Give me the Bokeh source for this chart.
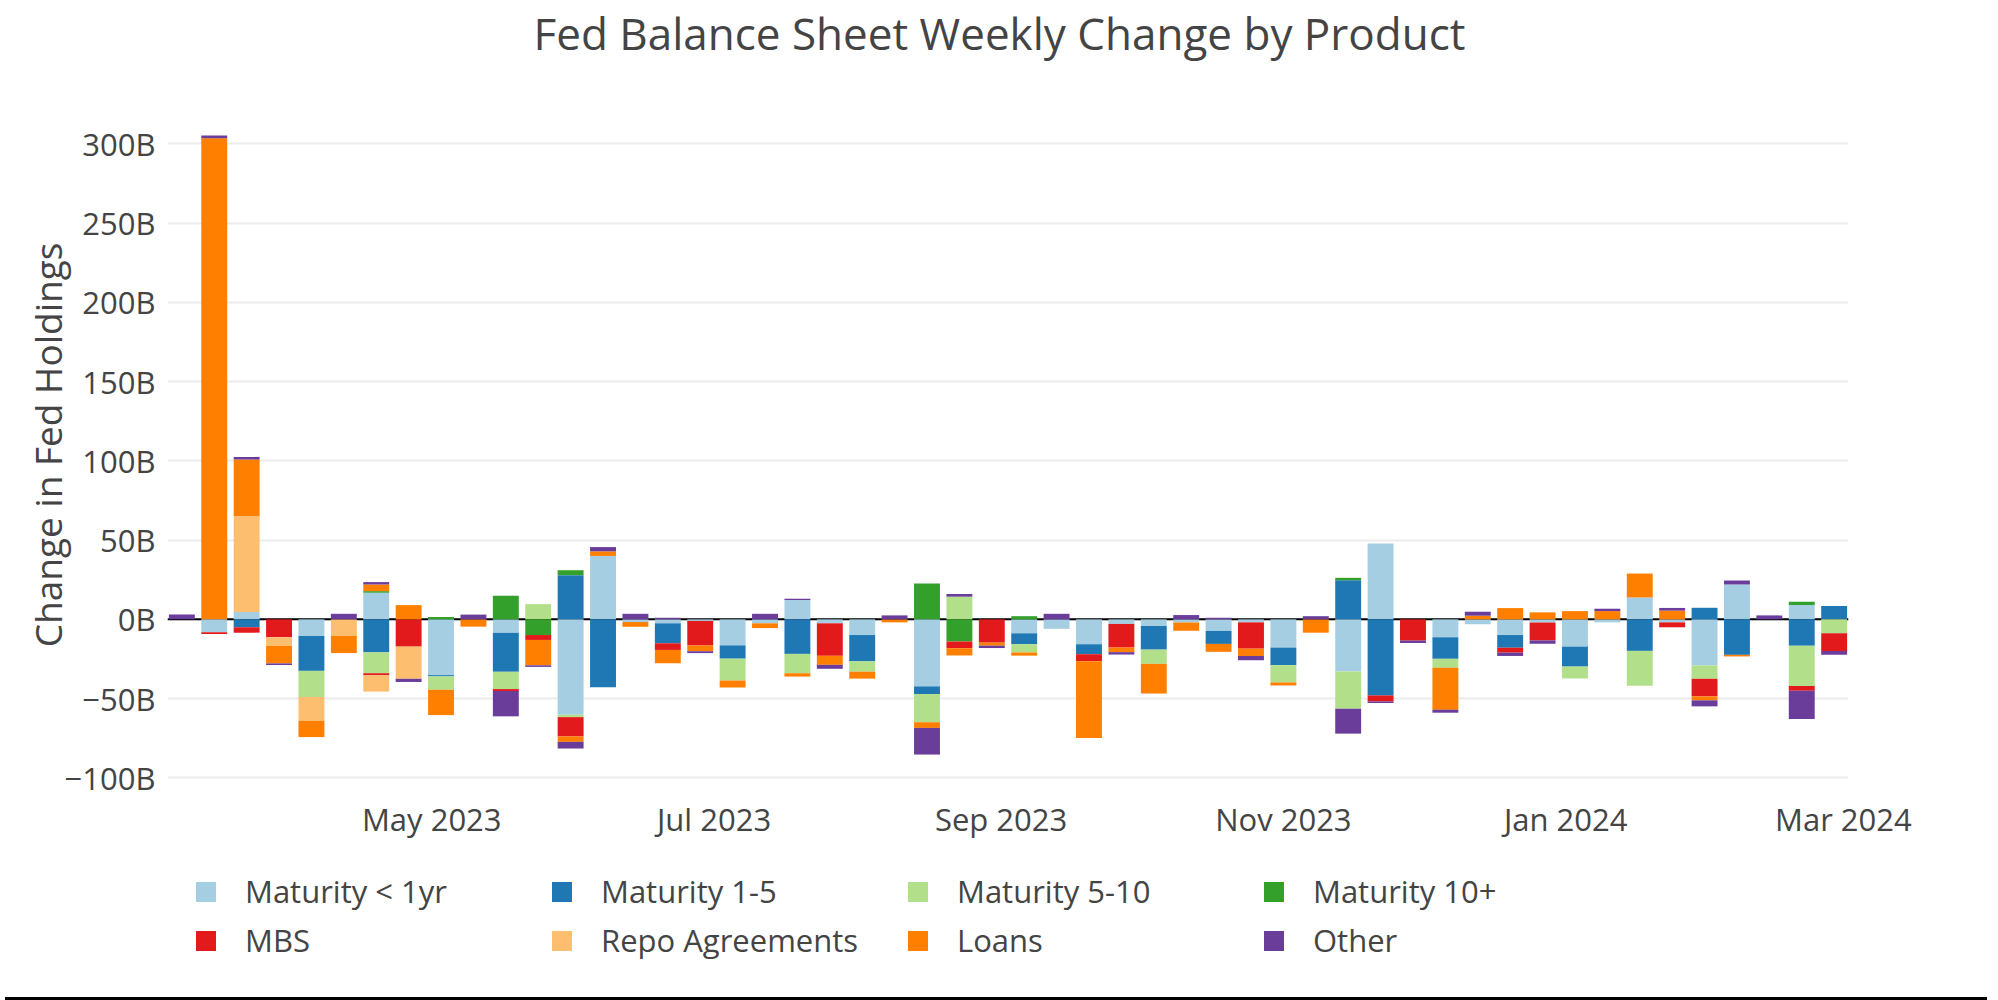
import numpy as np
import pandas as pd
from bokeh.plotting import figure
from bokeh.models import (Range1d, FixedTicker, DatetimeTickFormatter, Span, Label,
                          Legend, LegendItem, Div)
from bokeh.layouts import column
from bokeh.embed import file_html
from bokeh.resources import INLINE

# ---------------- data (billions USD, weekly change) ----------------
dates = pd.date_range("2023-03-08", periods=52, freq="7D")

series_names = ["Maturity < 1yr", "Maturity 1-5", "Maturity 5-10", "Maturity 10+",
                "MBS", "Repo Agreements", "Loans", "Other"]
series_colors = ["#a6cee3", "#1f78b4", "#b2df8a", "#33a02c",
                 "#e31a1c", "#fdbf6f", "#ff7f00", "#6a3d9a"]

mat_lt1 = [0, -8.2, 4.6, 0, -10.5, 0, 16.8, 0, -35.2, 0,
           -8.4, 0, -60.2, 40.0, -1.7, -2.5, -1.0, -16.4, -2.5, 12.2,
           -2.5, -9.9, 0, -42.3, 0, 0, -8.8, -6.0, -15.7, -2.9,
           -4.2, -2.0, -7.3, -1.9, -17.8, 0, -32.9, 47.8, 0, -11.3,
           -3.1, -9.9, -2.0, -17.2, -1.9, 13.8, -1.9, -29.1, 22.0, 0,
           9.0, 0]
mat_1_5 = [0, 0, -5.0, 0, -22.0, 0, -20.8, 0, -0.8, 0,
           -24.7, 0, 27.9, -42.8, 0, -12.6, 0, -8.4, 0, -21.8,
           0, -16.6, 0, -4.8, 0, 0, -6.9, 0, -6.3, 0,
           -14.9, 0, -8.2, 0, -11.1, 0, 24.7, -48.0, 0, -13.6,
           0, -8.0, 0, -12.6, 0, -19.9, 0, 7.3, -22.4, 0,
           -16.6, 8.4]
mat_5_10 = [0, 0, 0, 0, -16.5, 0, -13.2, 0, -8.4, 0,
            -10.9, 9.6, -1.5, 0, 0, 0, 0, -13.8, 0, -12.2,
            0, -6.5, 0, -17.8, 14.3, 0, -5.2, 0, 0, 0,
            -9.0, 0, 0, 0, -10.9, 0, -23.5, 0, 0, -5.7,
            0, 0, 0, -7.5, 0, -22.0, 0, -8.4, 0, 0,
            -25.4, -8.8]
mat_10p = [0, 0, 0, 0, 0, 0, 1.0, 0, 1.5, 0,
           14.9, -9.9, 3.1, 0, 0, 0, 0, 0, 0, 0,
           0, 0, 0, 22.6, -14.0, 0, 2.0, 0, 0, 0,
           0, 0, 0, 0, 0, 0, 1.5, 0, 0, 0,
           0, 0, 0, 0, 0, 0, 0, 0, 0, 0,
           2.1, 0]
mbs = [0, -1.0, -3.4, -11.3, 0, 0, -1.3, -17.2, 0, 0,
       -1.2, -3.1, -12.2, 0, 0, -4.2, -15.5, 0, 0, 0,
       -20.5, 0, 0, 0, -4.2, -14.7, 0, 0, -4.4, -14.9,
       0, 0, 0, -16.6, 0, 0, 0, -3.8, -13.4, 0,
       0, -3.1, -11.3, 0, 0, 0, -3.1, -11.1, 0, 0,
       -3.1, -11.1]
repo = [0, 0, 60.4, -5.5, -15.0, -10.3, -10.3, -20.3, 0, 0,
        0, 0, 0, 0, 0, 0, 0, 0, 0, 0,
        0, 0, 0, 0, 0, 0, 0, 0, 0, 0,
        0, 0, 0, 0, 0, 0, 0, 0, 0, 0,
        0, 0, 0, 0, 0, 0, 0, 0, 0, 0,
        0, 0]
loans = [0, 303.5, 35.8, -11.0, -10.3, -11.0, 4.2, 9.0, -16.0, -4.6,
         0, -16.0, -3.4, 2.9, -3.0, -8.4, -3.6, -4.4, -3.0, -2.1,
         -5.7, -4.4, -1.9, -3.6, -4.6, -1.9, -2.0, 0, -48.4, -2.9,
         -18.7, -5.2, -5.0, -4.6, -1.9, -8.4, 0, 0, 0, -26.4,
         2.3, 7.1, 4.4, 5.2, 5.2, 15.1, 5.5, -2.5, -1.0, 0,
         0, 0]
other = [3.0, 1.8, 1.7, -1.0, 0, 3.5, 1.5, -2.0, 0, 3.0,
         -16.0, -1.0, -4.2, 2.7, 3.5, 1.0, -1.2, 0, 3.5, 0.8,
         -2.5, 0, 2.5, -16.8, 1.7, -1.5, 0, 3.5, 0, -1.5,
         0, 2.7, 1.0, -2.7, 0, 2.0, -15.7, -1.0, -1.5, -1.9,
         2.5, -2.1, -2.1, 0, 1.5, 0, 1.7, -3.8, 2.5, 2.5,
         -17.8, -2.5]

series_values = [mat_lt1, mat_1_5, mat_5_10, mat_10p, mbs, repo, loans, other]

y_tick_values = [-100, -50, 0, 50, 100, 150, 200, 250, 300]
x_tick_dates = ["2023-05-01", "2023-07-01", "2023-09-01", "2023-11-01",
                "2024-01-01", "2024-03-01"]

title_text = "Fed Balance Sheet Weekly Change by Product"
y_label = "Change in Fed Holdings"

# ---------------- styling ----------------
FONT = "Open Sans"
TXT = "#444444"
W = 1982
TITLE_H = 70
H = 778
LEG_H = 144
FRAME_L, FRAME_R, FRAME_T, FRAME_B = 167, 1848, 34, 715   # main plot frame (px)

# ---------------- stacking (relative mode) ----------------
pos_base = np.zeros(len(dates))
neg_base = np.zeros(len(dates))
stacks = []
for vals in series_values:
    v = np.asarray(vals, dtype=float)
    bottom = np.where(v >= 0, pos_base, neg_base)
    top = bottom + v
    pos_base = np.where(v >= 0, top, pos_base)
    neg_base = np.where(v < 0, top, neg_base)
    stacks.append((bottom, top))

ymax = pos_base.max()
ymin = neg_base.min()
pad = 0.05 * (ymax - ymin)

day = pd.Timedelta(days=1)
x_start = dates[0] - 3.1 * day
x_end = dates[-1] + 3.1 * day
bar_width = 0.8 * 7 * 24 * 3600 * 1000


def strip(height, x_range, y_range, x_type="linear"):
    f = figure(width=W, height=height, x_range=x_range, y_range=y_range,
               x_axis_type=x_type, output_backend="svg", toolbar_location=None,
               x_axis_location=None, y_axis_location=None,
               min_border_left=FRAME_L, min_border_right=W - FRAME_R,
               min_border_top=0, min_border_bottom=0,
               outline_line_color=None,
               background_fill_color="white", border_fill_color="white")
    f.grid.visible = False
    return f


# ---------------- title strip (x data units == canvas px) ----------------
pt = strip(TITLE_H, Range1d(FRAME_L, FRAME_R), Range1d(0, TITLE_H))
pt.add_layout(Label(x=999, y=TITLE_H - 32, text=title_text, text_align="center",
                    text_baseline="middle", text_font=FONT, text_font_size="44px",
                    text_color=TXT))

# ---------------- main plot ----------------
p = figure(width=W, height=H, x_axis_type="datetime",
           x_range=Range1d(x_start, x_end),
           y_range=Range1d(ymin - pad, ymax + pad),
           output_backend="svg", toolbar_location=None,
           min_border_left=FRAME_L, min_border_right=W - FRAME_R,
           min_border_top=FRAME_T, min_border_bottom=H - FRAME_B,
           background_fill_color="white", border_fill_color="white",
           outline_line_color=None)

zero = Span(location=0, dimension="width", line_color="black",
            line_width=2, level="underlay")
p.add_layout(zero)

for name, color, (bottom, top) in zip(series_names, series_colors, stacks):
    p.vbar(x=dates, width=bar_width, bottom=bottom, top=top,
           fill_color=color, line_color=None)

p.xgrid.grid_line_color = None
p.ygrid.grid_line_color = "#ececec"
p.ygrid.grid_line_width = 2

p.yaxis.ticker = FixedTicker(ticks=y_tick_values)
p.yaxis.major_label_overrides = {
    t: (("\u2212" + str(abs(t))) if t < 0 else str(t)) + "B" for t in y_tick_values
}
p.yaxis.axis_label = y_label
p.yaxis.axis_label_text_font = FONT
p.yaxis.axis_label_text_font_size = "37px"
p.yaxis.axis_label_text_font_style = "normal"
p.yaxis.axis_label_text_color = TXT
p.yaxis.axis_label_standoff = -11

x_ticks = [pd.Timestamp(d).value / 1e6 for d in x_tick_dates]
p.xaxis.ticker = FixedTicker(ticks=x_ticks)
fmt = "%b %Y"
p.xaxis.formatter = DatetimeTickFormatter(
    microseconds=fmt, milliseconds=fmt, seconds=fmt, minsec=fmt, minutes=fmt,
    hourmin=fmt, hours=fmt, days=fmt, months=fmt, years=fmt)

for ax in (p.xaxis[0], p.yaxis[0]):
    ax.axis_line_color = None
    ax.major_tick_line_color = None
    ax.minor_tick_line_color = None
    ax.major_tick_out = 0
    ax.major_tick_in = 0
    ax.minor_tick_out = 0
    ax.major_label_text_font = FONT
    ax.major_label_text_font_size = "31px"
    ax.major_label_text_color = TXT
p.yaxis.major_label_standoff = 12
p.xaxis.major_label_standoff = 12

# ---------------- legend strip (4 columns x 2 rows) ----------------
# same series drawn far above this strip's y-range, so only legend swatches show
pl = strip(LEG_H, Range1d(x_start, x_end), Range1d(10 * ymax, 11 * ymax), "datetime")
swatches = []
for color, (bottom, top) in zip(series_colors, stacks):
    swatches.append(pl.vbar(x=dates, width=bar_width, bottom=bottom, top=top,
                            fill_color=color, line_color=None))
legend = Legend(items=[LegendItem(label=n, renderers=[r])
                       for n, r in zip(series_names, swatches)],
                location=(26, 31), orientation="horizontal", ncols=4,
                glyph_width=25, glyph_height=25, label_standoff=27,
                label_width=297, label_height=38, spacing=7,
                padding=0, margin=0, border_line_color=None,
                background_fill_alpha=0,
                label_text_font=FONT, label_text_font_size="31px",
                label_text_color=TXT)
pl.add_layout(legend)

bottom_rule = Div(text="", width=W, height=3, styles={"background-color": "black"})

layout = column(pt, p, pl, bottom_rule, spacing=0)

with open("out.html", "w") as f:
    f.write(file_html(layout, INLINE))
